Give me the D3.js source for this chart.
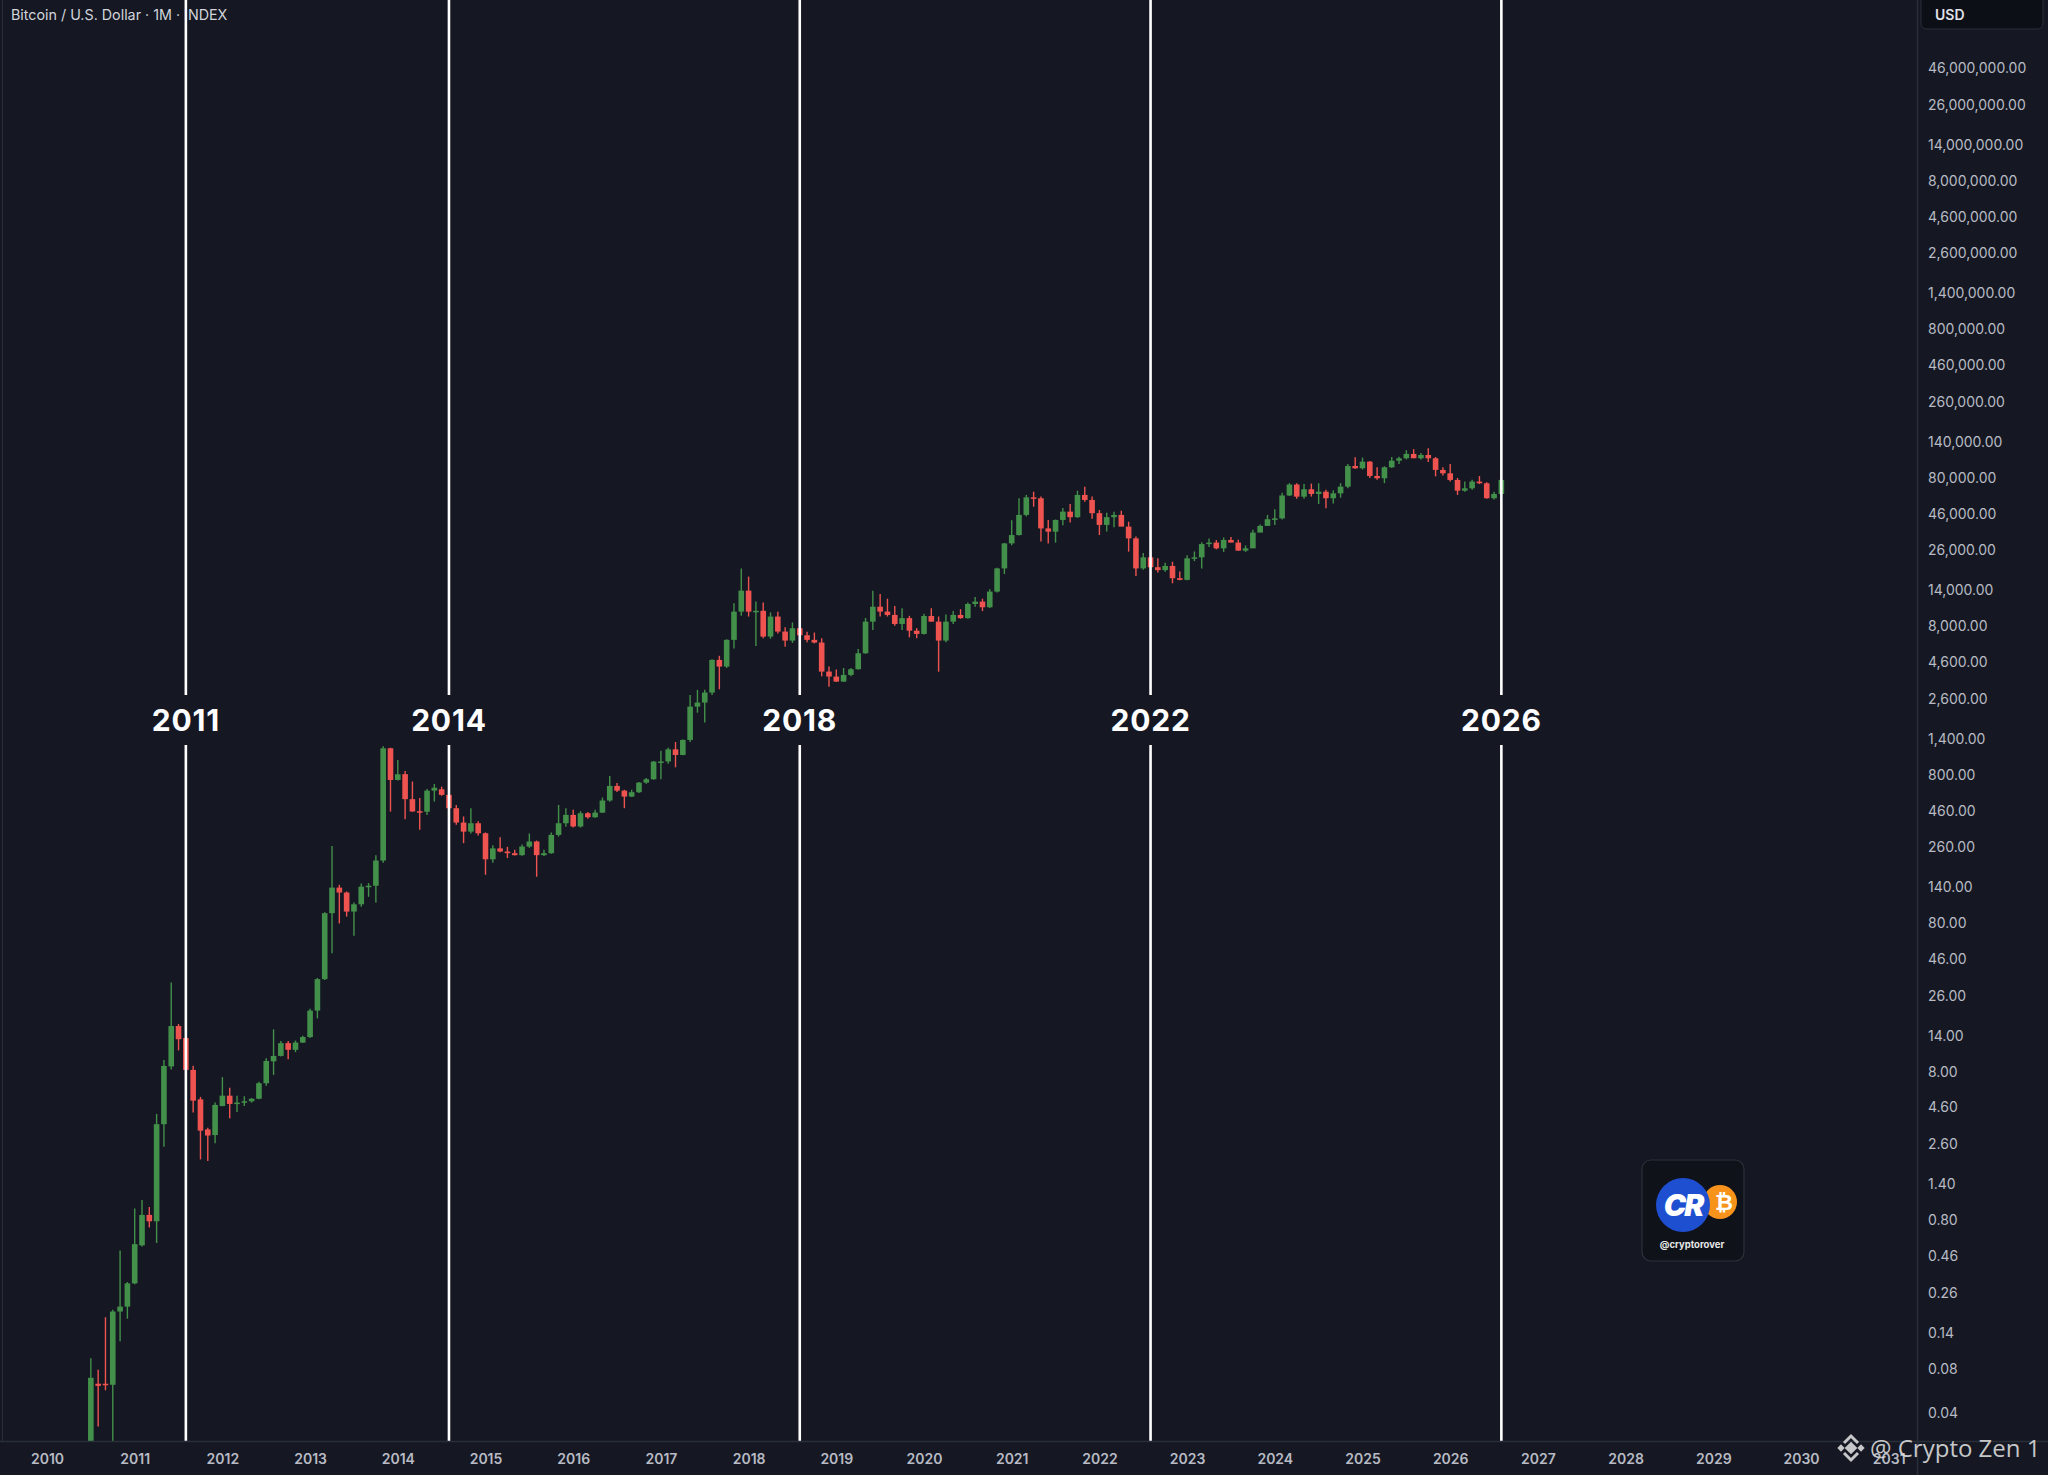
<!DOCTYPE html>
<html>
<head>
<meta charset="utf-8">
<script src="https://cdn.jsdelivr.net/npm/d3@7"></script>
<style>
  body { margin: 0; background: #151823; }
  svg { display: block; }
</style>
</head>
<body>
<div id="chart"></div>
<script>
// first candle is July 2010, one candle per month
var firstYear = 2010, firstMonth = 6;

var opens = [
  0.01, 0.062, 0.062, 0.061, 0.19, 0.205,
  0.294, 0.53, 0.85, 0.77, 3.47, 8.5, 15.9, 13.2, 8.05, 5.1, 3.2, 2.93,
  4.6, 5.4, 4.75, 4.85, 4.95, 5.15, 6.55, 9.2, 10.0, 12.2, 11.0, 12.3,
  13.4, 20.2, 32.9, 91.5, 136, 126, 93.8, 105, 138, 140, 207, 1180,
  722, 790, 536, 445, 441, 612, 625, 573, 466, 373, 324, 369,
  316, 211, 250, 238, 232, 225, 257, 278, 225, 232, 308, 369,
  420, 351, 431, 405, 435, 525, 658, 612, 558, 597, 693, 730,
  960, 962, 1161, 1064, 1343, 2252, 2397, 2800, 4645, 4190, 6340, 9820,
  13600, 9800, 9950, 6670, 9100, 7210, 6270, 7590, 6810, 6340, 6080, 3877,
  3590, 3320, 3680, 4020, 5150, 8410, 10600, 9830, 9330, 8110, 8880, 7310,
  6950, 9180, 8410, 6270, 8410, 9330, 8880, 11060, 11470, 10510, 13400, 19200,
  28300, 32200, 44000, 57800, 57000, 35700, 33950, 40700, 46300, 42500, 60000, 55500,
  45200, 37700, 42500, 44000, 36700, 30600, 19200, 22800, 19550, 18700, 19950, 16500,
  16070, 22450, 22800, 28000, 28650, 26200, 29850, 28650, 25300, 26200, 33450, 37100,
  41150, 41700, 59500, 70500, 58400, 65500, 60900, 63100, 57000, 61500, 68200, 94000,
  90700, 100500, 80500, 77700, 92100, 102000, 105900, 113300, 105900, 111500, 105900, 88400,
  83900, 75700, 64100, 66500, 73800, 71900, 57000, 60900
];
var highs = [
  0.092, 0.077, 0.174, 0.195, 0.49, 0.30,
  0.94, 1.07, 0.96, 4.07, 9.4, 31.2, 16.4, 13.4, 8.6, 5.3, 3.28, 4.85,
  7.2, 6.1, 5.4, 5.35, 5.2, 6.7, 9.65, 15.1, 12.6, 12.6, 12.7, 13.7,
  20.8, 33.5, 93, 259, 142, 128, 108, 145, 146, 225, 1220, 1190,
  984, 830, 705, 545, 628, 679, 650, 600, 490, 410, 466, 380,
  320, 262, 297, 256, 245, 265, 315, 282, 245, 320, 490, 465,
  455, 445, 440, 455, 550, 769, 690, 620, 620, 700, 745, 970,
  1137, 1190, 1300, 1350, 2700, 2917, 2920, 4700, 4950, 6400, 11170, 19200,
  16900, 11480, 11300, 9700, 9800, 7700, 8300, 7900, 7200, 7100, 6500, 4200,
  4000, 4100, 4100, 5500, 8900, 13600, 12900, 12000, 10700, 10350, 9200, 7600,
  9500, 10350, 9100, 9400, 9900, 10200, 11300, 12300, 12000, 13900, 19400, 28500,
  40500, 56900, 60000, 63100, 58500, 40700, 41000, 49000, 52200, 64000, 68200, 58500,
  47500, 45500, 46300, 47000, 39600, 31500, 24400, 25000, 22500, 21000, 21300, 18300,
  23500, 25000, 28800, 30500, 29800, 31000, 31300, 29900, 27400, 35000, 38000, 44000,
  48000, 62000, 72000, 72000, 71000, 71500, 71900, 65000, 64500, 72000, 97000, 107700,
  107000, 101500, 92000, 93500, 108000, 108500, 120000, 122000, 115000, 123600, 108000, 92000,
  97000, 78000, 73800, 76000, 80500, 73000, 63000, 76000
];
var lows = [
  0.01, 0.032, 0.056, 0.02, 0.12, 0.17,
  0.29, 0.52, 0.70, 0.55, 2.45, 8.1, 10.9, 5.75, 4.16, 2.01, 1.96, 2.58,
  4.58, 3.8, 4.2, 4.6, 4.85, 5.1, 6.3, 7.45, 9.9, 9.5, 10.6, 12.2,
  13.2, 17.9, 32.5, 49.2, 78, 86.7, 64.6, 101, 118, 108, 200, 442,
  715, 393, 440, 333, 420, 517, 565, 450, 360, 271, 315, 305,
  166, 200, 235, 215, 224, 223, 252, 161, 222, 230, 300, 350,
  345, 345, 395, 402, 433, 515, 600, 466, 555, 590, 680, 725,
  730, 930, 879, 1060, 1300, 2050, 1760, 2700, 2946, 4100, 5550, 9200,
  9100, 5770, 6500, 6450, 7000, 5700, 6050, 5850, 6100, 6000, 3600, 3070,
  3300, 3300, 3600, 4000, 5100, 7400, 9100, 9100, 7900, 7400, 6600, 6500,
  6900, 8400, 3870, 6100, 8100, 8800, 8800, 10600, 9900, 10400, 13200, 17600,
  27500, 32000, 43000, 50000, 29100, 28300, 28650, 37500, 39100, 42000, 54000, 41500,
  32200, 34000, 36300, 37500, 24900, 17100, 18800, 19400, 18000, 18200, 15250, 16000,
  16000, 21500, 19200, 26800, 25800, 24800, 28800, 25200, 24800, 26500, 33800, 37600,
  37700, 41000, 59000, 56500, 56500, 58500, 52100, 48800, 52500, 57500, 66500, 90000,
  89000, 78000, 76000, 72000, 91000, 97000, 104000, 106500, 104000, 100000, 80000, 81000,
  74000, 60000, 63000, 65000, 71000, 56500, 56000, 60500
];
var closes = [
  0.068, 0.060, 0.061, 0.19, 0.205, 0.294,
  0.54, 0.85, 0.77, 3.47, 8.57, 15.9, 12.95, 8.05, 5.0, 3.14, 2.91, 4.68,
  5.4, 4.75, 4.85, 4.95, 5.15, 6.55, 9.25, 10.0, 12.2, 11.0, 12.3, 13.4,
  20.2, 32.9, 91.5, 136, 126, 93.8, 105, 138, 140, 207, 1180, 722,
  789, 536, 443, 441, 612, 640, 573, 466, 373, 324, 369, 316,
  211, 250, 238, 232, 225, 257, 278, 225, 232, 308, 369, 420,
  351, 431, 405, 435, 525, 658, 612, 558, 597, 693, 730, 960,
  962, 1161, 1064, 1343, 2252, 2397, 2800, 4645, 4190, 6340, 9820, 13600,
  9820, 9950, 6670, 9100, 7210, 6270, 7590, 6810, 6340, 6080, 3877, 3590,
  3320, 3680, 4020, 5150, 8410, 10600, 9830, 9330, 8110, 8880, 7310, 6950,
  9180, 8410, 6270, 8410, 9330, 8880, 11060, 11470, 10510, 13400, 19200, 28300,
  32200, 44000, 57800, 57000, 35700, 33950, 40700, 46300, 42500, 60000, 55500, 45200,
  37700, 42500, 44000, 36700, 30600, 19200, 22800, 19550, 18700, 19950, 16500, 16070,
  22450, 22800, 28000, 28650, 26200, 29850, 28650, 25300, 26200, 33450, 37100, 41150,
  41700, 59500, 70500, 58400, 65500, 60900, 63100, 57000, 61500, 68200, 94000, 90700,
  100500, 80500, 77700, 92100, 102000, 105900, 113300, 105900, 111500, 105900, 88400, 83900,
  75700, 64100, 66500, 73800, 71900, 57000, 60900, 75700
];

// cycle marker lines (all in August)
var cycleYears = [2011, 2014, 2018, 2022, 2026];
var cycleMonth = 7;

var priceTicks = [46000000, 26000000, 14000000, 8000000, 4600000, 2600000, 1400000,
  800000, 460000, 260000, 140000, 80000, 46000, 26000, 14000, 8000, 4600, 2600, 1400,
  800, 460, 260, 140, 80, 46, 26, 14, 8, 4.6, 2.6, 1.4, 0.8, 0.46, 0.26, 0.14, 0.08, 0.04];
var yearTicks = [2010, 2011, 2012, 2013, 2014, 2015, 2016, 2017, 2018, 2019, 2020,
  2021, 2022, 2023, 2024, 2025, 2026, 2027, 2028, 2029, 2030, 2031];

var svgWidth = 2048, svgHeight = 1475;
var plotRight = 1917, plotBottom = 1441;
var green = "#43904a", red = "#ef5350";
var bg = "#151823", lineCol = "#2a2e39", textCol = "#b8bbc4";

var svg = d3.select("#chart").append("svg")
  .attr("width", svgWidth)
  .attr("height", svgHeight)
  .style("background", bg);

var x = d3.scaleLinear().domain([2010, 2030]).range([47, 1801]);
var y = d3.scaleLog().domain([46000000, 0.04]).range([66.6, 1412]);

var candles = opens.map(function(o, i) {
  return { t: firstYear + (firstMonth + i) / 12, o: o, h: highs[i], l: lows[i], c: closes[i] };
});

svg.append("clipPath").attr("id", "plot")
  .append("rect").attr("x", 0).attr("y", 0).attr("width", plotRight).attr("height", plotBottom);

// title
svg.append("text")
  .attr("x", 11).attr("y", 20)
  .attr("font-family", "Inter, sans-serif")
  .attr("font-size", "14.3px")
  .attr("fill", "#d1d4dc")
  .text("Bitcoin / U.S. Dollar \u00b7 1M \u00b7 INDEX");

var plot = svg.append("g").attr("clip-path", "url(#plot)");

plot.selectAll(".wick")
  .data(candles)
  .enter()
  .append("line")
  .attr("class", "wick")
  .attr("x1", d => x(d.t)).attr("x2", d => x(d.t))
  .attr("y1", d => y(d.h)).attr("y2", d => y(d.l))
  .attr("stroke", d => d.c >= d.o ? green : red)
  .attr("stroke-width", 1.4);

plot.selectAll(".body")
  .data(candles)
  .enter()
  .append("rect")
  .attr("class", "body")
  .attr("x", d => x(d.t) - 2.8)
  .attr("width", 5.6)
  .attr("y", d => y(Math.max(d.o, d.c)))
  .attr("height", d => Math.max(1.5, Math.abs(y(d.o) - y(d.c))))
  .attr("fill", d => d.c >= d.o ? green : red);

// cycle lines with labels
var cycles = plot.selectAll(".cycle")
  .data(cycleYears)
  .enter()
  .append("g")
  .attr("class", "cycle")
  .attr("transform", d => `translate(${x(d + cycleMonth / 12)},0)`);

cycles.append("line")
  .attr("y1", 0).attr("y2", 695)
  .attr("stroke", "#ffffff").attr("stroke-width", 2.6);
cycles.append("line")
  .attr("y1", 745).attr("y2", plotBottom)
  .attr("stroke", "#ffffff").attr("stroke-width", 2.6);
cycles.append("text")
  .attr("y", 731)
  .attr("text-anchor", "middle")
  .attr("font-family", "Inter, sans-serif")
  .attr("font-weight", "bold")
  .attr("font-size", "30px")
  .attr("letter-spacing", "0.8px")
  .attr("fill", "#ffffff")
  .text(d => d);

// separators
svg.append("line").attr("x1", 2.5).attr("x2", 2.5).attr("y1", 0).attr("y2", plotBottom)
  .attr("stroke", lineCol).attr("stroke-width", 1);
svg.append("line").attr("x1", plotRight + 0.5).attr("x2", plotRight + 0.5).attr("y1", 0).attr("y2", svgHeight)
  .attr("stroke", lineCol).attr("stroke-width", 1.5);
svg.append("line").attr("x1", 0).attr("x2", svgWidth).attr("y1", plotBottom + 0.5).attr("y2", plotBottom + 0.5)
  .attr("stroke", lineCol).attr("stroke-width", 1.5);

// price axis
var yAxis = d3.axisRight(y)
  .tickValues(priceTicks)
  .tickFormat(d3.format(",.2f"))
  .tickSize(0)
  .tickPadding(11);

var yAxisG = svg.append("g")
  .attr("transform", `translate(${plotRight},1.5)`)
  .call(yAxis);
yAxisG.select(".domain").remove();
yAxisG.selectAll("text")
  .attr("font-family", "Inter, sans-serif")
  .attr("font-size", "14px")
  .attr("fill", textCol);

// time axis
var xAxis = d3.axisBottom(x)
  .tickValues(yearTicks)
  .tickFormat(d3.format("d"))
  .tickSize(0)
  .tickPadding(13);

var xAxisG = svg.append("g")
  .attr("transform", `translate(0,${plotBottom})`)
  .call(xAxis);
xAxisG.select(".domain").remove();
xAxisG.selectAll("text")
  .attr("font-family", "Inter, sans-serif")
  .attr("font-size", "14px")
  .attr("font-weight", "600")
  .attr("fill", textCol);

// currency box
svg.append("rect")
  .attr("x", 1921).attr("y", -6).attr("width", 122).attr("height", 35).attr("rx", 5)
  .attr("fill", "#0d0f16").attr("stroke", lineCol);
svg.append("text")
  .attr("x", 1935).attr("y", 20)
  .attr("font-family", "Inter, sans-serif")
  .attr("font-size", "14px")
  .attr("font-weight", "600")
  .attr("fill", "#e0e3eb")
  .text("USD");

// cryptorover badge
var badge = svg.append("g").attr("transform", "translate(1642,1160)");
badge.append("rect")
  .attr("width", 102).attr("height", 101).attr("rx", 9)
  .attr("fill", "#10121a").attr("stroke", "#2c303b").attr("stroke-width", 1.2);
badge.append("circle").attr("cx", 78).attr("cy", 42).attr("r", 17).attr("fill", "#f7931a");
badge.append("text")
  .attr("x", 82).attr("y", 50)
  .attr("text-anchor", "middle")
  .attr("font-family", "DejaVu Sans, sans-serif")
  .attr("font-weight", "bold")
  .attr("font-size", "22px")
  .attr("fill", "#ffffff")
  .text("\u20bf");
badge.append("circle").attr("cx", 41).attr("cy", 45).attr("r", 27).attr("fill", "#1f4fd1");
badge.append("text")
  .attr("x", 41).attr("y", 56)
  .attr("text-anchor", "middle")
  .attr("font-family", "Inter, sans-serif")
  .attr("font-weight", "900")
  .attr("font-style", "italic")
  .attr("font-size", "30px")
  .attr("letter-spacing", "-2px")
  .attr("fill", "#ffffff")
  .text("CR");
badge.append("text")
  .attr("x", 50).attr("y", 88)
  .attr("text-anchor", "middle")
  .attr("font-family", "Inter, sans-serif")
  .attr("font-weight", "bold")
  .attr("font-size", "9.5px")
  .attr("fill", "#e8e8e8")
  .text("@cryptorover");

// bottom-right watermark (sits over the 2031 label, as in the source)
var wm = svg.append("g").attr("fill", "#d6d6d6").attr("opacity", 0.92);
var diamonds = [[1851, 1448, 4.5], [1841, 1448, 2.6], [1861, 1448, 2.6]];
wm.selectAll("rect")
  .data(diamonds)
  .enter()
  .append("rect")
  .attr("x", d => d[0] - d[2]).attr("y", d => d[1] - d[2])
  .attr("width", d => d[2] * 2).attr("height", d => d[2] * 2)
  .attr("transform", d => `rotate(45,${d[0]},${d[1]})`);
wm.append("path")
  .attr("d", "M1844,1443 L1851,1436 L1858,1443 M1844,1453 L1851,1460 L1858,1453")
  .attr("fill", "none").attr("stroke", "#d6d6d6").attr("stroke-width", 3);
wm.append("text")
  .attr("x", 1870).attr("y", 1457)
  .attr("font-family", "Open Sans, sans-serif")
  .attr("font-size", "24px")
  .text("@ Crypto Zen 1");
</script>
</body>
</html>
